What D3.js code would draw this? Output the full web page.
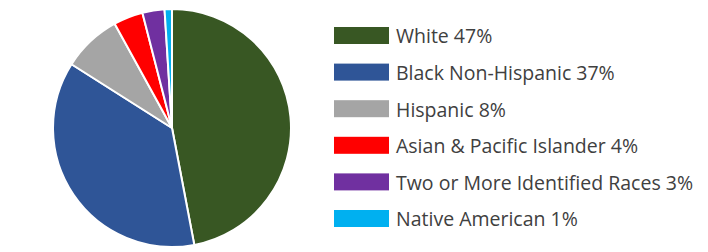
<!DOCTYPE html>
<html>
<head>
<meta charset="utf-8">
<script src="https://cdn.jsdelivr.net/npm/d3@7"></script>
<style>
  body { margin: 0; background: #fff; }
  text { font-family: "Open Sans", sans-serif; }
</style>
</head>
<body>
<script>
// data
var groups  = ["White", "Black Non-Hispanic", "Hispanic", "Asian & Pacific Islander", "Two or More Identified Races", "Native American"];
var shares  = [47, 37, 8, 4, 3, 1];
var colours = ["#385723", "#2F5597", "#A5A5A5", "#FF0000", "#7030A0", "#00B0F0"];

var width = 708, height = 252;

var svg = d3.select("body").append("svg")
    .attr("width", width)
    .attr("height", height);

/* PIE ************************************************************ */
var radius = 119;
var pieG = svg.append("g")
    .attr("transform", "translate(172,128)");

var pie = d3.pie().sort(null).value(function (d) { return d; });
var arc = d3.arc().innerRadius(0).outerRadius(radius);

pieG.selectAll("path")
    .data(pie(shares))
  .enter().append("path")
    .attr("d", arc)
    .attr("fill", function (d, i) { return colours[i]; })
    .attr("stroke", "#fff")
    .attr("stroke-width", 2)
    .attr("stroke-linejoin", "round");

/* LEGEND ********************************************************* */
var rowY = d3.scalePoint().domain(groups).range([27, 210]);

var legend = svg.append("g").selectAll("g")
    .data(groups)
  .enter().append("g")
    .attr("transform", function (d) { return "translate(334," + rowY(d) + ")"; });

legend.append("rect")
    .attr("width", 55)
    .attr("height", 17)
    .attr("fill", function (d, i) { return colours[i]; });

legend.append("text")
    .attr("x", 62)
    .attr("y", 16.3)
    .attr("fill", "#404040")
    .style("font-size", "19.5px")
    .text(function (d, i) { return d + " " + shares[i] + "%"; });
</script>
</body>
</html>
